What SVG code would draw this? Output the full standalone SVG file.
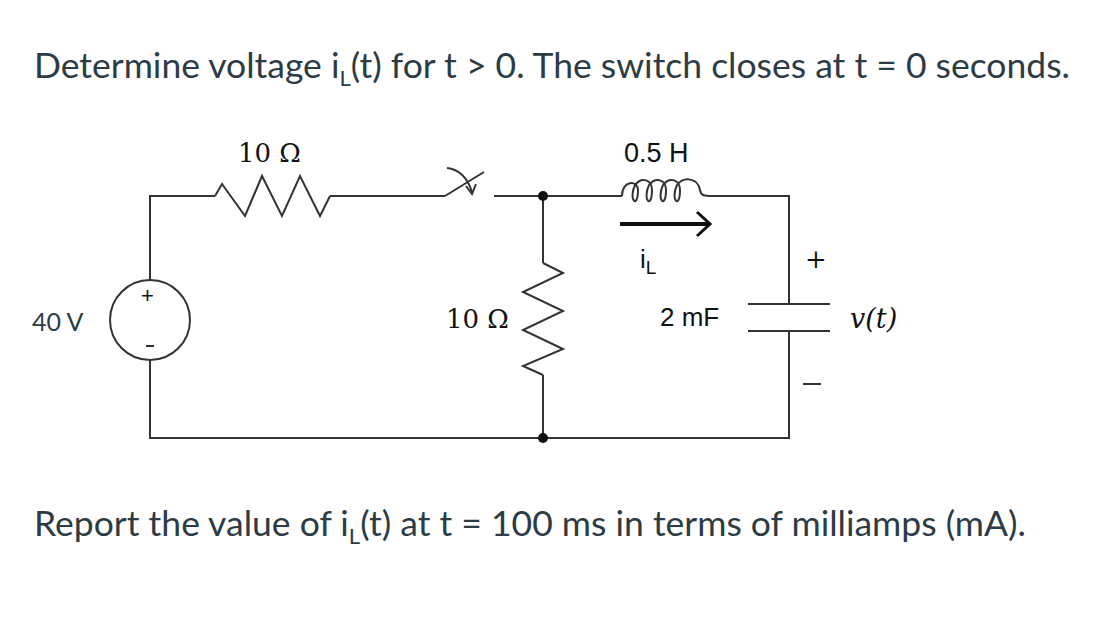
<svg xmlns="http://www.w3.org/2000/svg" width="1113" height="624" viewBox="0 0 1113 624">
<style>
.w{fill:none;stroke:#333;stroke-width:2}
.t{font-family:Lato,"Liberation Sans",sans-serif;fill:#2d3b45}
.s{font-family:"Liberation Sans",sans-serif;fill:#111}
.m{font-family:"DejaVu Serif","Liberation Serif",serif;fill:#111}
</style>
<rect width="1113" height="624" fill="#fff"/>
<text class="t" x="34" y="78" font-size="35.5">Determine voltage i<tspan font-size="22" dy="8">L</tspan><tspan dy="-8">(t) for t &gt; 0. The switch closes at t = 0 seconds.</tspan></text>
<text class="t" x="34" y="536" font-size="35.5">Report the value of i<tspan font-size="22" dy="8">L</tspan><tspan dy="-8">(t) at t = 100 ms in terms of milliamps (mA).</tspan></text>
<g id="connectors">
<path class="w" d="M150,280 V196 H215 M330,196 H445 M494,196 H622 M712,196 H789 V304 M789,331 V438 H150 V360 M543,196 V263 M543,375 V438"/>
</g>
<g id="R1"><path class="w" d="M215,196 L222,184 L245,216 L262,176 L282,216 L300,176 L320,216 L330,196"/><text class="m" x="238" y="162" font-size="26">10 Ω</text></g>
<g id="switch"><path class="w" d="M445,196 L484,172"/><path class="w" d="M447,168 Q465,170 472,192"/><path class="w" d="M466,186 L472,194 L476,184"/></g>
<g id="R2"><path class="w" d="M543,263 L563,273 L523,292 L563,311 L523,330 L563,349 L523,366 L543,375"/><text class="m" x="446" y="328" font-size="26">10 Ω</text></g>
<g id="L"><path class="w" d="M622,196 C622,180 638,180 638,190 C638,210 628,200 635,185 C642,176 652,180 652,190 C652,210 642,200 649,185 C656,176 666,180 666,190 C666,210 656,200 663,185 C670,176 680,180 680,190 C680,210 670,200 677,185 C684,176 698,178 700,190 C701,196 705,196 712,196"/>
<text class="s" x="624" y="162" font-size="27">0.5 H</text>
<path d="M620,224 H710" stroke="#111" stroke-width="4" fill="none"/><path d="M697,212 L710,224 L697,236" stroke="#111" stroke-width="3" fill="none"/>
<text class="s" x="640" y="268" font-size="26">i<tspan font-size="19" dy="6">L</tspan></text></g>
<g id="C"><path class="w" d="M748,304 H830 M748,331 H830"/><text class="s" x="660" y="326" font-size="26">2 mF</text>
<text class="m" x="805" y="268" font-size="26">+</text><path class="w" d="M803,384 H821"/>
<text class="m" x="850" y="328" font-size="27" font-style="italic">v(t)</text></g>
<g id="V"><circle class="w" cx="150" cy="320" r="40"/><text class="s" x="141" y="303" font-size="22">+</text><path class="w" d="M146,346 H154"/><text class="t" x="32" y="331" font-size="25">40 V</text></g>
<g id="nodes"><circle cx="543" cy="196" r="5" fill="#111"/><circle cx="543" cy="438" r="5" fill="#111"/></g>
</svg>
